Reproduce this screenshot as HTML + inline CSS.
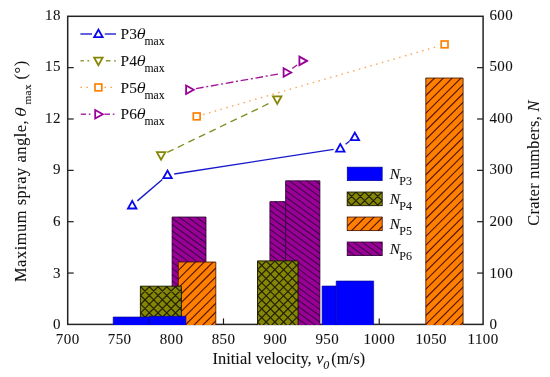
<!DOCTYPE html>
<html><head><meta charset="utf-8"><title>Chart</title>
<style>
html,body{margin:0;padding:0;background:#fff;}
svg{display:block;}
text{font-family:"Liberation Serif",serif;fill:#111;stroke:#111;stroke-width:0.08px;}
.tk{font-size:15px;letter-spacing:0.4px;}
.lb{font-size:16px;}
.ax{font-size:16.4px;}
.lg{font-size:15.4px;}
.sub{font-size:11.3px;}
.it{font-style:italic;}
.th{font-family:"DejaVu Serif","Liberation Serif",serif;font-style:italic;stroke:none;}
</style></head><body>
<svg width="550" height="377" viewBox="0 0 550 377">
<defs>
</defs>
<rect width="550" height="377" fill="#fff"/>

<line x1="119.62" y1="324.4" x2="119.62" y2="318.4" stroke="#1a1a1a" stroke-width="1.2"/>
<line x1="171.55" y1="324.4" x2="171.55" y2="318.4" stroke="#1a1a1a" stroke-width="1.2"/>
<line x1="223.48" y1="324.4" x2="223.48" y2="318.4" stroke="#1a1a1a" stroke-width="1.2"/>
<line x1="275.40" y1="324.4" x2="275.40" y2="318.4" stroke="#1a1a1a" stroke-width="1.2"/>
<line x1="327.33" y1="324.4" x2="327.33" y2="318.4" stroke="#1a1a1a" stroke-width="1.2"/>
<line x1="379.25" y1="324.4" x2="379.25" y2="318.4" stroke="#1a1a1a" stroke-width="1.2"/>
<line x1="431.18" y1="324.4" x2="431.18" y2="318.4" stroke="#1a1a1a" stroke-width="1.2"/>
<line x1="67.7" y1="273.05" x2="73.7" y2="273.05" stroke="#1a1a1a" stroke-width="1.2"/>
<line x1="67.7" y1="221.70" x2="73.7" y2="221.70" stroke="#1a1a1a" stroke-width="1.2"/>
<line x1="67.7" y1="170.35" x2="73.7" y2="170.35" stroke="#1a1a1a" stroke-width="1.2"/>
<line x1="67.7" y1="119.00" x2="73.7" y2="119.00" stroke="#1a1a1a" stroke-width="1.2"/>
<line x1="67.7" y1="67.65" x2="73.7" y2="67.65" stroke="#1a1a1a" stroke-width="1.2"/>
<line x1="483.1" y1="273.05" x2="477.1" y2="273.05" stroke="#1a1a1a" stroke-width="1.2"/>
<line x1="483.1" y1="221.70" x2="477.1" y2="221.70" stroke="#1a1a1a" stroke-width="1.2"/>
<line x1="483.1" y1="170.35" x2="477.1" y2="170.35" stroke="#1a1a1a" stroke-width="1.2"/>
<line x1="483.1" y1="119.00" x2="477.1" y2="119.00" stroke="#1a1a1a" stroke-width="1.2"/>
<line x1="483.1" y1="67.65" x2="477.1" y2="67.65" stroke="#1a1a1a" stroke-width="1.2"/>
<rect x="67.7" y="16.3" width="415.40000000000003" height="308.09999999999997" fill="none" stroke="#242424" stroke-width="1.5"/>
<rect x="172.10" y="217.00" width="33.90" height="108.00" fill="#9a0096"/>
<clipPath id="c1"><rect x="172.10" y="217.00" width="33.90" height="108.00"/></clipPath>
<path clip-path="url(#c1)" d="M171.10,192.51L207.00,218.61M171.10,198.78L207.00,224.88M171.10,205.05L207.00,231.15M171.10,211.32L207.00,237.42M171.10,217.59L207.00,243.69M171.10,223.86L207.00,249.96M171.10,230.13L207.00,256.23M171.10,236.40L207.00,262.50M171.10,242.67L207.00,268.77M171.10,248.94L207.00,275.04M171.10,255.21L207.00,281.31M171.10,261.48L207.00,287.58M171.10,267.75L207.00,293.85M171.10,274.02L207.00,300.12M171.10,280.29L207.00,306.39M171.10,286.56L207.00,312.66M171.10,292.83L207.00,318.93M171.10,299.10L207.00,325.20M171.10,305.37L207.00,331.47M171.10,311.64L207.00,337.74M171.10,317.91L207.00,344.01M171.10,324.18L207.00,350.28" stroke="#40004a" stroke-width="1.1" fill="none"/>
<path d="M172.10,325.00V217.00H206.00V325.00" fill="none" stroke="#2a0030" stroke-width="0.8"/>
<rect x="269.90" y="201.60" width="15.70" height="123.40" fill="#9a0096"/>
<clipPath id="c2"><rect x="269.90" y="201.60" width="15.70" height="123.40"/></clipPath>
<path clip-path="url(#c2)" d="M268.90,190.95L286.60,203.82M268.90,197.22L286.60,210.09M268.90,203.49L286.60,216.36M268.90,209.76L286.60,222.63M268.90,216.03L286.60,228.90M268.90,222.30L286.60,235.17M268.90,228.57L286.60,241.44M268.90,234.84L286.60,247.71M268.90,241.11L286.60,253.98M268.90,247.38L286.60,260.25M268.90,253.65L286.60,266.52M268.90,259.92L286.60,272.79M268.90,266.19L286.60,279.06M268.90,272.46L286.60,285.33M268.90,278.73L286.60,291.60M268.90,285.00L286.60,297.87M268.90,291.27L286.60,304.14M268.90,297.54L286.60,310.41M268.90,303.81L286.60,316.68M268.90,310.08L286.60,322.95M268.90,316.35L286.60,329.22M268.90,322.62L286.60,335.49" stroke="#40004a" stroke-width="1.1" fill="none"/>
<path d="M269.90,325.00V201.60H285.60V325.00" fill="none" stroke="#2a0030" stroke-width="0.8"/>
<rect x="285.60" y="180.80" width="34.30" height="144.20" fill="#9a0096"/>
<clipPath id="c3"><rect x="285.60" y="180.80" width="34.30" height="144.20"/></clipPath>
<path clip-path="url(#c3)" d="M284.60,158.55L320.90,184.94M284.60,164.82L320.90,191.21M284.60,171.09L320.90,197.48M284.60,177.36L320.90,203.75M284.60,183.63L320.90,210.02M284.60,189.90L320.90,216.29M284.60,196.17L320.90,222.56M284.60,202.44L320.90,228.83M284.60,208.71L320.90,235.10M284.60,214.98L320.90,241.37M284.60,221.25L320.90,247.64M284.60,227.52L320.90,253.91M284.60,233.79L320.90,260.18M284.60,240.06L320.90,266.45M284.60,246.33L320.90,272.72M284.60,252.60L320.90,278.99M284.60,258.87L320.90,285.26M284.60,265.14L320.90,291.53M284.60,271.41L320.90,297.80M284.60,277.68L320.90,304.07M284.60,283.95L320.90,310.34M284.60,290.22L320.90,316.61M284.60,296.49L320.90,322.88M284.60,302.76L320.90,329.15M284.60,309.03L320.90,335.42M284.60,315.30L320.90,341.69M284.60,321.57L320.90,347.96" stroke="#40004a" stroke-width="1.1" fill="none"/>
<path d="M285.60,325.00V180.80H319.90V325.00" fill="none" stroke="#2a0030" stroke-width="0.8"/>
<rect x="178.30" y="262.00" width="37.50" height="63.00" fill="#ff8000"/>
<clipPath id="c4"><rect x="178.30" y="262.00" width="37.50" height="63.00"/></clipPath>
<path clip-path="url(#c4)" d="M177.30,271.40L216.80,231.90M177.30,280.20L216.80,240.70M177.30,289.00L216.80,249.50M177.30,297.80L216.80,258.30M177.30,306.60L216.80,267.10M177.30,315.40L216.80,275.90M177.30,324.20L216.80,284.70M177.30,333.00L216.80,293.50M177.30,341.80L216.80,302.30M177.30,350.60L216.80,311.10M177.30,359.40L216.80,319.90" stroke="#551400" stroke-width="1.15" fill="none"/>
<path d="M178.30,325.00V262.00H215.80V325.00" fill="none" stroke="#3a1000" stroke-width="0.8"/>
<rect x="425.80" y="78.00" width="37.30" height="247.00" fill="#ff8000"/>
<clipPath id="c5"><rect x="425.80" y="78.00" width="37.30" height="247.00"/></clipPath>
<path clip-path="url(#c5)" d="M424.80,79.00L464.10,39.70M424.80,87.80L464.10,48.50M424.80,96.60L464.10,57.30M424.80,105.40L464.10,66.10M424.80,114.20L464.10,74.90M424.80,123.00L464.10,83.70M424.80,131.80L464.10,92.50M424.80,140.60L464.10,101.30M424.80,149.40L464.10,110.10M424.80,158.20L464.10,118.90M424.80,167.00L464.10,127.70M424.80,175.80L464.10,136.50M424.80,184.60L464.10,145.30M424.80,193.40L464.10,154.10M424.80,202.20L464.10,162.90M424.80,211.00L464.10,171.70M424.80,219.80L464.10,180.50M424.80,228.60L464.10,189.30M424.80,237.40L464.10,198.10M424.80,246.20L464.10,206.90M424.80,255.00L464.10,215.70M424.80,263.80L464.10,224.50M424.80,272.60L464.10,233.30M424.80,281.40L464.10,242.10M424.80,290.20L464.10,250.90M424.80,299.00L464.10,259.70M424.80,307.80L464.10,268.50M424.80,316.60L464.10,277.30M424.80,325.40L464.10,286.10M424.80,334.20L464.10,294.90M424.80,343.00L464.10,303.70M424.80,351.80L464.10,312.50M424.80,360.60L464.10,321.30" stroke="#551400" stroke-width="1.15" fill="none"/>
<path d="M425.80,325.00V78.00H463.10V325.00" fill="none" stroke="#3a1000" stroke-width="0.8"/>
<rect x="140.40" y="286.20" width="41.00" height="38.80" fill="#868606"/>
<clipPath id="c6"><rect x="140.40" y="286.20" width="41.00" height="38.80"/></clipPath>
<path clip-path="url(#c6)" d="M139.40,288.00L182.40,245.00M139.40,296.70L182.40,253.70M139.40,305.40L182.40,262.40M139.40,314.10L182.40,271.10M139.40,322.80L182.40,279.80M139.40,331.50L182.40,288.50M139.40,340.20L182.40,297.20M139.40,348.90L182.40,305.90M139.40,357.60L182.40,314.60M139.40,366.30L182.40,323.30M139.40,250.70L182.40,293.70M139.40,259.40L182.40,302.40M139.40,268.10L182.40,311.10M139.40,276.80L182.40,319.80M139.40,285.50L182.40,328.50M139.40,294.20L182.40,337.20M139.40,302.90L182.40,345.90M139.40,311.60L182.40,354.60M139.40,320.30L182.40,363.30" stroke="#222200" stroke-width="1.2" fill="none"/>
<path d="M140.40,325.00V286.20H181.40V325.00" fill="none" stroke="#141400" stroke-width="0.9"/>
<rect x="257.50" y="260.90" width="40.60" height="64.10" fill="#868606"/>
<clipPath id="c7"><rect x="257.50" y="260.90" width="40.60" height="64.10"/></clipPath>
<path clip-path="url(#c7)" d="M256.50,262.00L299.10,219.40M256.50,270.70L299.10,228.10M256.50,279.40L299.10,236.80M256.50,288.10L299.10,245.50M256.50,296.80L299.10,254.20M256.50,305.50L299.10,262.90M256.50,314.20L299.10,271.60M256.50,322.90L299.10,280.30M256.50,331.60L299.10,289.00M256.50,340.30L299.10,297.70M256.50,349.00L299.10,306.40M256.50,357.70L299.10,315.10M256.50,366.40L299.10,323.80M256.50,225.30L299.10,267.90M256.50,234.00L299.10,276.60M256.50,242.70L299.10,285.30M256.50,251.40L299.10,294.00M256.50,260.10L299.10,302.70M256.50,268.80L299.10,311.40M256.50,277.50L299.10,320.10M256.50,286.20L299.10,328.80M256.50,294.90L299.10,337.50M256.50,303.60L299.10,346.20M256.50,312.30L299.10,354.90M256.50,321.00L299.10,363.60" stroke="#222200" stroke-width="1.2" fill="none"/>
<path d="M257.50,325.00V260.90H298.10V325.00" fill="none" stroke="#141400" stroke-width="0.9"/>
<rect x="113.20" y="317.00" width="35.80" height="8.00" fill="#0000ff"/>
<path d="M113.20,325.00V317.00H149.00V325.00" fill="none" stroke="#00008a" stroke-width="0.6"/>
<rect x="149.00" y="316.30" width="36.90" height="8.70" fill="#0000ff"/>
<path d="M149.00,325.00V316.30H185.90V325.00" fill="none" stroke="#00008a" stroke-width="0.6"/>
<rect x="322.10" y="286.00" width="14.10" height="39.00" fill="#0000ff"/>
<path d="M322.10,325.00V286.00H336.20V325.00" fill="none" stroke="#00008a" stroke-width="0.6"/>
<rect x="336.20" y="281.00" width="37.45" height="44.00" fill="#0000ff"/>
<path d="M336.20,325.00V281.00H373.65V325.00" fill="none" stroke="#00008a" stroke-width="0.6"/>
<text class="tk" x="67.70" y="344.0" text-anchor="middle">700</text>
<text class="tk" x="119.62" y="344.0" text-anchor="middle">750</text>
<text class="tk" x="171.55" y="344.0" text-anchor="middle">800</text>
<text class="tk" x="223.48" y="344.0" text-anchor="middle">850</text>
<text class="tk" x="275.40" y="344.0" text-anchor="middle">900</text>
<text class="tk" x="327.33" y="344.0" text-anchor="middle">950</text>
<text class="tk" x="379.25" y="344.0" text-anchor="middle">1000</text>
<text class="tk" x="431.18" y="344.0" text-anchor="middle">1050</text>
<text class="tk" x="483.10" y="344.0" text-anchor="middle">1100</text>
<text class="tk" x="60.8" y="329.20" text-anchor="end">0</text>
<text class="tk" x="60.8" y="277.63" text-anchor="end">3</text>
<text class="tk" x="60.8" y="226.06" text-anchor="end">6</text>
<text class="tk" x="60.8" y="174.49" text-anchor="end">9</text>
<text class="tk" x="60.8" y="122.92" text-anchor="end">12</text>
<text class="tk" x="60.8" y="71.35" text-anchor="end">15</text>
<text class="tk" x="60.8" y="19.78" text-anchor="end">18</text>
<text class="tk" x="489.4" y="329.20" text-anchor="start">0</text>
<text class="tk" x="489.4" y="277.62" text-anchor="start">100</text>
<text class="tk" x="489.4" y="226.05" text-anchor="start">200</text>
<text class="tk" x="489.4" y="174.47" text-anchor="start">300</text>
<text class="tk" x="489.4" y="122.90" text-anchor="start">400</text>
<text class="tk" x="489.4" y="71.33" text-anchor="start">500</text>
<text class="tk" x="489.4" y="19.75" text-anchor="start">600</text>
<line x1="137.36" y1="200.87" x2="162.34" y2="179.43" stroke="#1818cc" stroke-width="1.35"/>
<line x1="174.22" y1="173.97" x2="333.58" y2="149.43" stroke="#1818cc" stroke-width="1.35"/>
<line x1="345.65" y1="144.20" x2="349.45" y2="141.20" stroke="#1818cc" stroke-width="1.35"/>
<polygon points="132.20,200.90 127.95,208.50 136.45,208.50" fill="#fff" stroke="#0808ee" stroke-width="1.8" stroke-linejoin="miter"/>
<polygon points="167.50,170.60 163.25,178.20 171.75,178.20" fill="#fff" stroke="#0808ee" stroke-width="1.8" stroke-linejoin="miter"/>
<polygon points="340.30,144.00 336.05,151.60 344.55,151.60" fill="#fff" stroke="#0808ee" stroke-width="1.8" stroke-linejoin="miter"/>
<polygon points="354.80,132.60 350.55,140.20 359.05,140.20" fill="#fff" stroke="#0808ee" stroke-width="1.8" stroke-linejoin="miter"/>
<line x1="167.23" y1="152.35" x2="271.07" y2="102.45" stroke="#7f8e22" stroke-width="1.35" stroke-dasharray="7 4.7"/>
<polygon points="161.10,159.70 156.85,152.10 165.35,152.10" fill="#fff" stroke="#868606" stroke-width="1.8" stroke-linejoin="miter"/>
<polygon points="277.20,103.90 272.95,96.30 281.45,96.30" fill="#fff" stroke="#868606" stroke-width="1.8" stroke-linejoin="miter"/>
<line x1="203.23" y1="114.50" x2="438.07" y2="46.30" stroke="#ffa24e" stroke-width="1.35" stroke-dasharray="1.5 4.5"/>
<rect x="193.30" y="113.00" width="6.8" height="6.8" fill="#fff" stroke="#ff8000" stroke-width="1.7"/>
<rect x="441.20" y="41.00" width="6.8" height="6.8" fill="#fff" stroke="#ff8000" stroke-width="1.7"/>
<line x1="196.00" y1="88.61" x2="280.10" y2="73.69" stroke="#a0149a" stroke-width="1.35" stroke-dasharray="7.7 2.7 2 2.7"/>
<line x1="292.28" y1="68.48" x2="297.12" y2="64.92" stroke="#a0149a" stroke-width="1.35" stroke-dasharray="7.7 2.7 2 2.7"/>
<polygon points="193.70,89.80 186.10,85.55 186.10,94.05" fill="#fff" stroke="#99009a" stroke-width="1.8" stroke-linejoin="miter"/>
<polygon points="291.20,72.50 283.60,68.25 283.60,76.75" fill="#fff" stroke="#99009a" stroke-width="1.8" stroke-linejoin="miter"/>
<polygon points="307.00,60.90 299.40,56.65 299.40,65.15" fill="#fff" stroke="#99009a" stroke-width="1.8" stroke-linejoin="miter"/>
<line x1="80.4" y1="34.00" x2="92.0" y2="34.00" stroke="#1818cc" stroke-width="1.35"/>
<line x1="104.8" y1="34.00" x2="116.0" y2="34.00" stroke="#1818cc" stroke-width="1.35"/>
<polygon points="98.40,29.60 94.15,37.20 102.65,37.20" fill="#fff" stroke="#0808ee" stroke-width="1.8" stroke-linejoin="miter"/>
<text class="lg" x="120.6" y="39.40">P3</text>
<text class="th" style="font-size:14.5px" x="137.0" y="39.40">θ</text>
<text class="sub" style="font-size:11.7px" x="144.4" y="45.10">max</text>
<line x1="80.5" y1="60.80" x2="83.8" y2="60.80" stroke="#7f8e22" stroke-width="1.35"/>
<line x1="87.4" y1="60.80" x2="89.2" y2="60.80" stroke="#7f8e22" stroke-width="1.35"/>
<line x1="105.9" y1="60.80" x2="110.5" y2="60.80" stroke="#7f8e22" stroke-width="1.35"/>
<line x1="114.1" y1="60.80" x2="115.9" y2="60.80" stroke="#7f8e22" stroke-width="1.35"/>
<polygon points="98.40,65.20 94.15,57.60 102.65,57.60" fill="#fff" stroke="#868606" stroke-width="1.8" stroke-linejoin="miter"/>
<text class="lg" x="120.6" y="66.40">P4</text>
<text class="th" style="font-size:14.5px" x="137.0" y="66.40">θ</text>
<text class="sub" style="font-size:11.7px" x="144.4" y="72.10">max</text>
<line x1="80.4" y1="87.40" x2="82.0" y2="87.40" stroke="#ffa24e" stroke-width="1.35"/>
<line x1="86.4" y1="87.40" x2="88.0" y2="87.40" stroke="#ffa24e" stroke-width="1.35"/>
<line x1="104.4" y1="87.40" x2="106.0" y2="87.40" stroke="#ffa24e" stroke-width="1.35"/>
<line x1="110.4" y1="87.40" x2="112.0" y2="87.40" stroke="#ffa24e" stroke-width="1.35"/>
<rect x="95.00" y="84.00" width="6.8" height="6.8" fill="#fff" stroke="#ff8000" stroke-width="1.7"/>
<text class="lg" x="120.6" y="93.00">P5</text>
<text class="th" style="font-size:14.5px" x="137.0" y="93.00">θ</text>
<text class="sub" style="font-size:11.7px" x="144.4" y="98.70">max</text>
<line x1="80.8" y1="114.20" x2="86.0" y2="114.20" stroke="#a0149a" stroke-width="1.35"/>
<line x1="88.8" y1="114.20" x2="90.4" y2="114.20" stroke="#a0149a" stroke-width="1.35"/>
<line x1="104.4" y1="114.20" x2="110.0" y2="114.20" stroke="#a0149a" stroke-width="1.35"/>
<line x1="112.8" y1="114.20" x2="114.4" y2="114.20" stroke="#a0149a" stroke-width="1.35"/>
<polygon points="102.80,114.20 95.20,109.95 95.20,118.45" fill="#fff" stroke="#99009a" stroke-width="1.8" stroke-linejoin="miter"/>
<text class="lg" x="120.6" y="119.00">P6</text>
<text class="th" style="font-size:14.5px" x="137.0" y="119.00">θ</text>
<text class="sub" style="font-size:11.7px" x="144.4" y="124.70">max</text>
<rect x="347.20" y="167.10" width="35.00" height="13.60" fill="#0000ff"/>
<rect x="347.20" y="167.10" width="35.00" height="13.60" fill="none" stroke="#00008a" stroke-width="0.6"/>
<text class="lg" x="389.8" y="179.20"><tspan class="it">N</tspan><tspan class="sub" style="font-size:12px" dy="6" dx="-0.8">P3</tspan></text>
<rect x="347.20" y="192.07" width="35.00" height="13.60" fill="#868606"/>
<clipPath id="c8"><rect x="347.20" y="192.07" width="35.00" height="13.60"/></clipPath>
<path clip-path="url(#c8)" d="M346.20,193.10L383.20,156.10M346.20,201.80L383.20,164.80M346.20,210.50L383.20,173.50M346.20,219.20L383.20,182.20M346.20,227.90L383.20,190.90M346.20,236.60L383.20,199.60M346.20,156.20L383.20,193.20M346.20,164.90L383.20,201.90M346.20,173.60L383.20,210.60M346.20,182.30L383.20,219.30M346.20,191.00L383.20,228.00M346.20,199.70L383.20,236.70" stroke="#222200" stroke-width="1.2" fill="none"/>
<rect x="347.20" y="192.07" width="35.00" height="13.60" fill="none" stroke="#141400" stroke-width="0.9"/>
<text class="lg" x="389.8" y="204.17"><tspan class="it">N</tspan><tspan class="sub" style="font-size:12px" dy="6" dx="-0.8">P4</tspan></text>
<rect x="347.20" y="217.04" width="35.00" height="13.60" fill="#ff8000"/>
<clipPath id="c9"><rect x="347.20" y="217.04" width="35.00" height="13.60"/></clipPath>
<path clip-path="url(#c9)" d="M346.20,218.45L383.20,181.45M346.20,227.25L383.20,190.25M346.20,236.05L383.20,199.05M346.20,244.85L383.20,207.85M346.20,253.65L383.20,216.65M346.20,262.45L383.20,225.45" stroke="#551400" stroke-width="1.15" fill="none"/>
<rect x="347.20" y="217.04" width="35.00" height="13.60" fill="none" stroke="#3a1000" stroke-width="0.8"/>
<text class="lg" x="389.8" y="229.14"><tspan class="it">N</tspan><tspan class="sub" style="font-size:12px" dy="6" dx="-0.8">P5</tspan></text>
<rect x="347.20" y="242.01" width="35.00" height="13.60" fill="#9a0096"/>
<clipPath id="c10"><rect x="347.20" y="242.01" width="35.00" height="13.60"/></clipPath>
<path clip-path="url(#c10)" d="M346.20,217.89L383.20,244.79M346.20,224.16L383.20,251.06M346.20,230.43L383.20,257.33M346.20,236.70L383.20,263.60M346.20,242.97L383.20,269.87M346.20,249.24L383.20,276.14" stroke="#40004a" stroke-width="1.1" fill="none"/>
<rect x="347.20" y="242.01" width="35.00" height="13.60" fill="none" stroke="#2a0030" stroke-width="0.8"/>
<text class="lg" x="389.8" y="254.11"><tspan class="it">N</tspan><tspan class="sub" style="font-size:12px" dy="6" dx="-0.8">P6</tspan></text>
<text class="ax" x="212.6" y="363.8">Initial velocity, <tspan class="it" x="316.2">v</tspan><tspan class="sub it" style="font-size:12px" x="323.3" dy="5.6">0</tspan><tspan style="font-size:16px" x="331.3" dy="-5.6">(m/s)</tspan></text>
<g transform="translate(25.5,282) rotate(-90)"><text class="ax" style="letter-spacing:0.53px" x="0" y="0">Maximum spray angle,</text><text class="th" style="font-size:15.6px" x="165.6" y="0">θ</text><text class="sub" style="letter-spacing:0.4px" x="177.4" y="5.7">max</text><text class="ax" style="letter-spacing:0.53px" x="202.6" y="0">(°)</text></g>
<text class="ax" style="letter-spacing:0.29px" transform="translate(539.3,225.8) rotate(-90)">Crater numbers, <tspan class="it">N</tspan></text>
</svg></body></html>
